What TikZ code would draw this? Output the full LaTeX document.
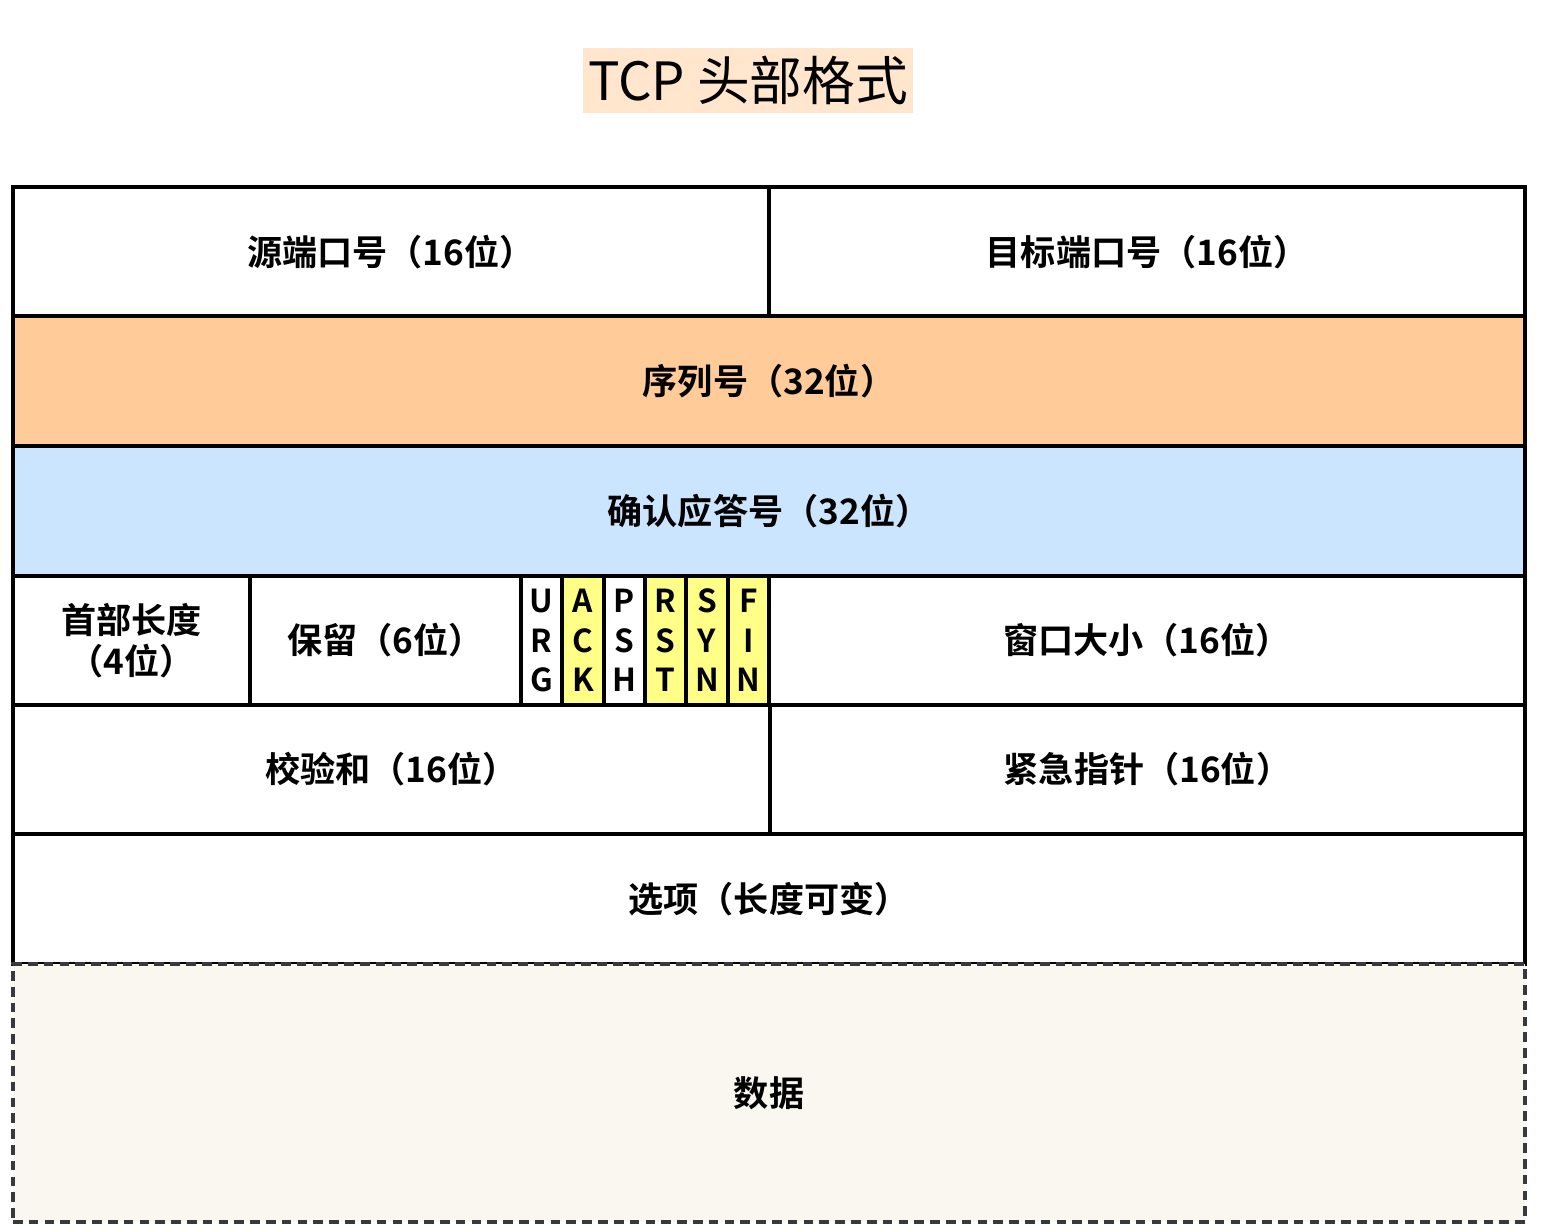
\documentclass[tikz,border=0pt]{standalone}
\usepackage{fontspec}
\newfontfamily\cjk{Noto Sans CJK SC}[BoldFont={Noto Sans CJK SC Bold}]

\definecolor{seqorange}{HTML}{FFCC99}
\definecolor{ackblue}{HTML}{CCE5FF}
\definecolor{flagyellow}{HTML}{FFFF88}
\definecolor{databg}{HTML}{F9F7F0}
\definecolor{titlebg}{HTML}{FFE6CC}
\definecolor{dashgray}{HTML}{36393D}

\tikzset{
  size/.style 2 args={minimum width=#1*0.02cm, minimum height=#2*0.02cm},
  field/.style={draw, line width=2.2pt, inner sep=0pt, align=center,
    font=\cjk\bfseries\fontsize{20}{23}\selectfont},
  flagbox/.style={field, size={41.33}{129},
    font=\cjk\bfseries\fontsize{18}{22.5}\selectfont},
  dashbox/.style={draw=dashgray, line width=2.4pt, dash pattern=on 5.5pt off 3.5pt},
}

\begin{document}
\begin{tikzpicture}[x=0.02cm,y=-0.02cm]
        \useasboundingbox (0,0) rectangle (1541,1231);

        % Title
        \node[fill=titlebg, inner sep=0pt, size={330}{65},
              font=\cjk\fontsize{30}{32}\selectfont] (title) at (748,80) {TCP 头部格式};

        % Ports
        \node[field, size={756}{130}] (srcport) at (391,252) {源端口号（16位）};
        \node[field, size={756}{130}] (dstport) at (1147,252) {目标端口号（16位）};

        % Sequence and acknowledgement numbers
        \node[field, fill=seqorange, size={1512}{130}] (seqnum) at (769,381) {序列号（32位）};
        \node[field, fill=ackblue, size={1512}{130}] (acknum) at (769,511) {确认应答号（32位）};

        % Header length, reserved bits, flags, window
        \node[field, size={237}{129}] (hdrlen) at (131.5,640.5) {首部长度\\（4位）};
        \node[field, size={271}{129}] (reserved) at (385.5,640.5) {保留（6位）};
        \foreach \name/\a/\b/\c/\col [count=\i from 0] in
            {urg/U/R/G/white, ack/A/C/K/flagyellow, psh/P/S/H/white,
             rst/R/S/T/flagyellow, syn/S/Y/N/flagyellow, fin/F/I/N/flagyellow} {
            \node[flagbox, fill=\col] (\name) at (541.67+41.33*\i,640.5) {\a\\\b\\\c};
        }
        \node[field, size={756}{129}] (window) at (1147,640.5) {窗口大小（16位）};

        % Checksum and urgent pointer
        \node[field, size={757}{129}] (checksum) at (391.5,769.5) {校验和（16位）};
        \node[field, size={755}{129}] (urgptr) at (1147.5,769.5) {紧急指针（16位）};

        % Options and data
        \node[field, size={1512}{130}] (options) at (769,899) {选项（长度可变）};
        \node[field, dashbox, fill=databg, size={1512}{258}] (payload) at (769,1093) {数据};

\end{tikzpicture}
\end{document}
